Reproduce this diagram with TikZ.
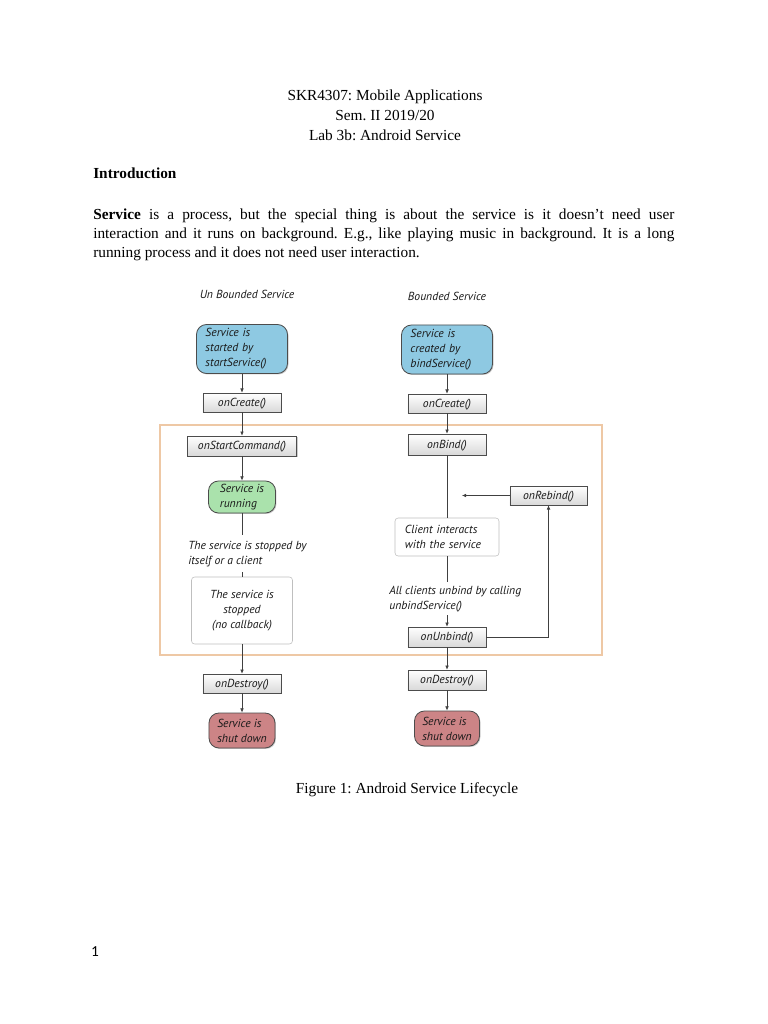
\documentclass[tikz,border=0pt]{standalone}
\usepackage{fontspec}
\setmainfont{Liberation Serif}
\newfontfamily\handfont{PT Sans}
\newfontfamily\piedfont{Carlito}
\usetikzlibrary{arrows.meta,shadows}
\definecolor{bleudepart}{RGB}{142,201,226}
\definecolor{vertmarche}{RGB}{170,226,172}
\definecolor{rougefin}{RGB}{204,132,134}
\definecolor{cadreorange}{RGB}{238,200,165}
\frenchspacing
\begin{document}
\begin{tikzpicture}[x=0.025cm, y=-0.025cm]
\tikzset{texte/.style={font=\fontsize{10.9}{13.5}\selectfont, inner sep=0pt},
  main/.style={font=\handfont\itshape\fontsize{8.3}{10.6}\selectfont, inner sep=0pt, text=black!90},
  ombre/.style={drop shadow={opacity=0.4, shadow xshift=0.7pt, shadow yshift=-0.7pt}},
  bleunoeud/.style={main, ombre, draw=black!70, fill=bleudepart, rounded corners=2.5mm, line width=0.6pt, minimum width=22.75mm, minimum height=12.25mm, text width=18.25mm, align=left},
  grisnoeud/.style={main, ombre, draw=black!70, top color=white, bottom color=black!15, minimum width=19.5mm, minimum height=5mm, text height=1.6ex, text depth=0.45ex},
  vertnoeud/.style={main, ombre, draw=black!70, fill=vertmarche, rounded corners=2.5mm, line width=0.6pt, align=left, minimum width=16.75mm, minimum height=8mm},
  rougenoeud/.style={main, ombre, draw=black!70, fill=rougefin, rounded corners=2.5mm, line width=0.6pt, align=left, minimum width=16.5mm, minimum height=8.75mm},
  blancnoeud/.style={main, draw=black!25, fill=white, rounded corners=0.8mm},
  fleche/.style={draw=black!75, line width=0.45pt, -{Latex[length=3pt, width=2.6pt]}},
  trait/.style={draw=black!75, line width=0.45pt}}
\useasboundingbox (0,0) rectangle (768,1024);
\fill[white] (0,0) rectangle (768,1024);
\node[texte] (T1) at (385,97) {SKR4307: Mobile Applications};
\node[texte] (T2) at (385,116) {Sem. II 2019/20};
\node[texte] (T3) at (385,135) {Lab 3b: Android Service};
\node[texte, anchor=west, font=\bfseries\fontsize{10.9}{13.5}\selectfont] (T4) at (93,173) {Introduction};
\node[texte, anchor=north west, text width=145.25mm, align=justify] (T5) at (93,209) {\hyphenpenalty=10000 \textbf{Service} is a process, but the special thing is about the service is it doesn't need user\linebreak interaction and it runs on background. E.g., like playing music in background. It is a long\linebreak running process and it does not need user interaction.};
\draw[cadreorange, line width=0.8pt] (160,425) rectangle (602,655);
\node[main] (L1) at (247,294) {Un Bounded Service};
\node[main] (L2) at (447,296) {Bounded Service};
\node[bleunoeud] (U1) at (242,349) {Service is\\started by\\startService()};
\node[grisnoeud, minimum height=4.75mm] (U2) at (242,402.5) {onCreate()};
\node[grisnoeud, minimum width=27.25mm] (U3) at (242,446) {onStartCommand()};
\node[vertnoeud] (U4) at (242,497) {Service is\\running};
\node[main, anchor=west, align=left] (U5) at (188,554) {The service is stopped by\\itself or a client};
\node[blancnoeud, minimum width=25.25mm, minimum height=16.75mm, align=center] (U6) at (242,610.5) {The service is\\stopped\\(no callback)};
\node[grisnoeud, minimum height=4.75mm] (U7) at (242,683.5) {onDestroy()};
\node[rougenoeud] (U8) at (242,730.5) {Service is\\shut down};
\node[bleunoeud] (B1) at (447,349.5) {Service is\\created by\\bindService()};
\node[grisnoeud, minimum height=4.75mm] (B2) at (447,403.5) {onCreate()};
\node[grisnoeud, minimum height=5.25mm] (B3) at (447,444.5) {onBind()};
\node[grisnoeud, minimum width=19.25mm, minimum height=4.75mm] (B4) at (548.5,495.5) {onRebind()};
\node[blancnoeud, minimum width=26mm, minimum height=9.5mm, text width=21mm, align=left] (B5) at (447,537) {Client interacts\\with the service};
\node[main, anchor=west, align=left] (B6) at (389,599.5) {All clients unbind by calling\\unbindService()};
\node[grisnoeud] (B7) at (447,637) {onUnbind()};
\node[grisnoeud] (B8) at (447,680) {onDestroy()};
\node[rougenoeud, minimum width=16.25mm] (B9) at (447,728.5) {Service is\\shut down};
\coordinate (C1) at (242,535);
\coordinate (C2) at (242,572);
\coordinate (C3) at (447,582);
\coordinate (C4) at (447,615);
\coordinate (C5) at (462,495.5);
\draw[fleche] (U1) -- (U2);
\draw[fleche] (U2) -- (U3);
\draw[fleche] (U3) -- (U4);
\draw[trait] (U4) -- (C1);
\draw[trait] (C2) -- (U6);
\draw[fleche] (U6) -- (U7);
\draw[fleche] (U7) -- (U8);
\draw[fleche] (B1) -- (B2);
\draw[fleche] (B2) -- (B3);
\draw[trait] (B3) -- (B5);
\draw[trait] (B5) -- (C3);
\draw[fleche] (C4) -- (B7);
\draw[fleche] (B7) -| (B4);
\draw[fleche] (B4) -- (C5);
\draw[fleche] (B7) -- (B8);
\draw[fleche] (B8) -- (B9);
\node[texte] (F1) at (407,790) {Figure 1: Android Service Lifecycle};
\node[font=\piedfont\fontsize{10.9}{13}\selectfont, inner sep=0pt] (P1) at (95,952) {1};
\end{tikzpicture}
\end{document}
